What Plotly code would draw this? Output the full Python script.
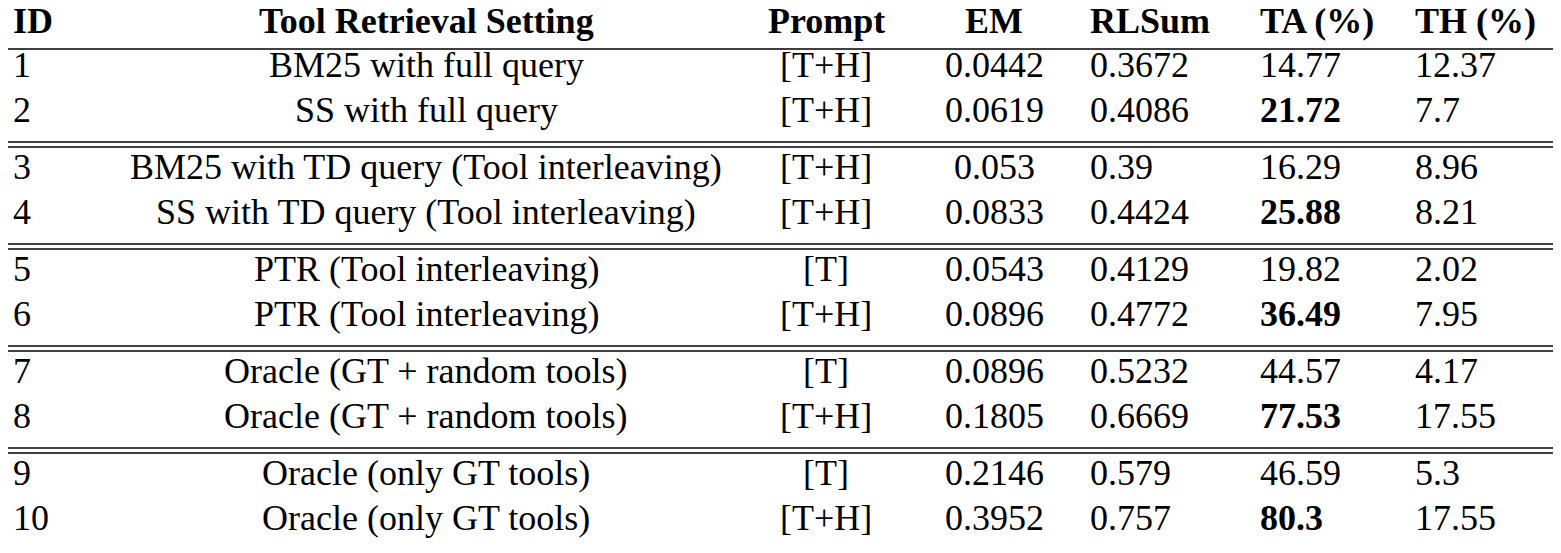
import plotly.graph_objects as go

headers = ["ID", "Tool Retrieval Setting", "Prompt", "EM", "RLSum", "TA (%)", "TH (%)"]
ids = ["1","2","3","4","5","6","7","8","9","10"]
settings = ["BM25 with full query","SS with full query",
            "BM25 with TD query (Tool interleaving)","SS with TD query (Tool interleaving)",
            "PTR (Tool interleaving)","PTR (Tool interleaving)",
            "Oracle (GT + random tools)","Oracle (GT + random tools)",
            "Oracle (only GT tools)","Oracle (only GT tools)"]
prompts = ["[T+H]","[T+H]","[T+H]","[T+H]","[T]","[T+H]","[T]","[T+H]","[T]","[T+H]"]
em = ["0.0442","0.0619","0.053","0.0833","0.0543","0.0896","0.0896","0.1805","0.2146","0.3952"]
rlsum = ["0.3672","0.4086","0.39","0.4424","0.4129","0.4772","0.5232","0.6669","0.579","0.757"]
ta = ["14.77","21.72","16.29","25.88","19.82","36.49","44.57","77.53","46.59","80.3"]
ta_bold = [False,True,False,True,False,True,False,True,False,True]
th = ["12.37","7.7","8.96","8.21","2.02","7.95","4.17","17.55","5.3","17.55"]

W, H = 1561, 553
FONT = "Liberation Serif"
FS = 36
row_y = [57,102,159,204,261,306,363,408,465,510]
head_y = 13
cols = [(3,"left"),(418,"center"),(818,"center"),(986,"center"),(1080,"left"),(1250,"left"),(1405,"left")]

fig = go.Figure()
ann = []
for (x, a), h in zip(cols, headers):
    ann.append(dict(x=x, y=head_y, text=f"<b>{h}</b>", xanchor=a, showarrow=False))
data = [ids, settings, prompts, em, rlsum, ta, th]
for ci, ((x, a), col) in enumerate(zip(cols, data)):
    for ri, v in enumerate(col):
        t = f"<b>{v}</b>" if ci == 5 and ta_bold[ri] else v
        ann.append(dict(x=x, y=row_y[ri], text=t, xanchor=a, showarrow=False))
for d in ann:
    d.update(xref="x", yref="y", yanchor="middle", font=dict(family=FONT, size=FS, color="black"))

shapes = []
def hline(y, w=1.6):
    shapes.append(dict(type="line", xref="x", yref="y", x0=0, x1=1552, y0=y, y1=y,
                       line=dict(color="black", width=w)))
hline(41)
for y in [134, 236, 338, 440]:
    hline(y); hline(y + 5)
hline(549)

fig.update_layout(width=W, height=H, margin=dict(l=0, r=0, t=0, b=0),
                  paper_bgcolor="white", plot_bgcolor="white",
                  xaxis=dict(range=[0, W], visible=False, fixedrange=True),
                  yaxis=dict(range=[H, 0], visible=False, fixedrange=True),
                  annotations=ann, shapes=shapes, showlegend=False)
fig.write_html("out.html")
